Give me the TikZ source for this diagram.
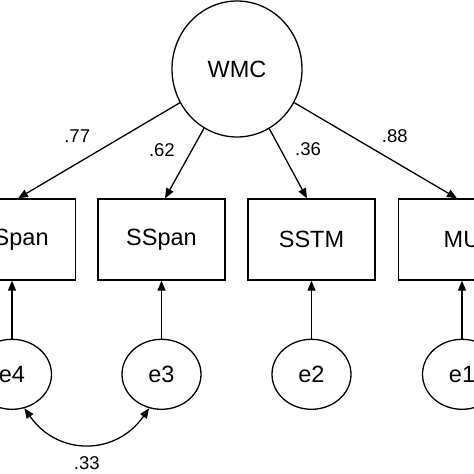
\documentclass[tikz,border=0pt]{standalone}
\usepackage{fontspec}
\setmainfont{Liberation Sans}
\usepackage{tikz}
\usetikzlibrary{shapes, arrows.meta, positioning}

\begin{document}
\begin{tikzpicture}[
            x=1pt, y=-1pt,
            node distance=58pt,
            latent/.style={ellipse, draw, line width=1.3pt, minimum width=130pt, minimum height=136pt, font=\fontsize{23.5}{26}\selectfont},
            block/.style={rectangle, draw, line width=1.3pt, minimum width=127pt, minimum height=81pt, font=\fontsize{23.5}{26}\selectfont},
            err/.style={ellipse, draw, line width=1.3pt, minimum width=79pt, minimum height=70pt, inner sep=0pt, font=\fontsize{23.5}{26}\selectfont},
            arrow/.style={line width=1.3pt, -{Triangle[length=10pt, width=8pt]}},
            coef/.style={font=\fontsize{18.5}{20}\selectfont}
        ]
            \useasboundingbox (0,0) rectangle (474,474);
            \clip (0,0) rectangle (474,474);

            \node[latent] (wmc) at (237,69) {WMC};

            % indicators
            \node[block] (ospan) at (12,239.5) {OSpan};
            \node[block] (sspan) at (161.5,239.5) {SSpan};
            \node[block] (sstm) at (311.5,239.5) {SSTM};
            \node[block] (mu) at (462,239.5) {MU};

            % residuals
            \node[err, below=58pt of ospan] (e4) {e4};
            \node[err, below=58pt of sspan] (e3) {e3};
            \node[err, below=58pt of sstm] (e2) {e2};
            \node[err, below=58pt of mu] (e1) {e1};

            \draw[arrow] (wmc) -- ([xshift=6pt]ospan.north) node[coef, pos=0.56, xshift=-12pt, yshift=20pt] (l1) {.77};
            \draw[arrow] (wmc) -- ([xshift=3.5pt]sspan.north) node[coef, pos=0.49, xshift=-23pt, yshift=13pt] (l2) {.62};
            \draw[arrow] (wmc) -- ([xshift=-4.5pt]sstm.north) node[coef, pos=0.47, xshift=21pt, yshift=12pt] (l3) {.36};
            \draw[arrow] (wmc) -- ([xshift=-5pt]mu.north) node[coef, pos=0.55, xshift=11pt, yshift=19pt] (l4) {.88};

            \draw[arrow] (e4) -- (ospan);
            \draw[arrow] (e3) -- (sspan);
            \draw[arrow] (e2) -- (sstm);
            \draw[arrow] (e1) -- (mu);

            \draw[line width=1.3pt, {Triangle[length=10pt, width=8pt]}-{Triangle[length=10pt, width=8pt]}]
                (e4.-70) to[out=-55, in=-125, looseness=1.2] node[coef, below=8pt] (l5) {.33} (e3.-110);
        \end{tikzpicture}
\end{document}
